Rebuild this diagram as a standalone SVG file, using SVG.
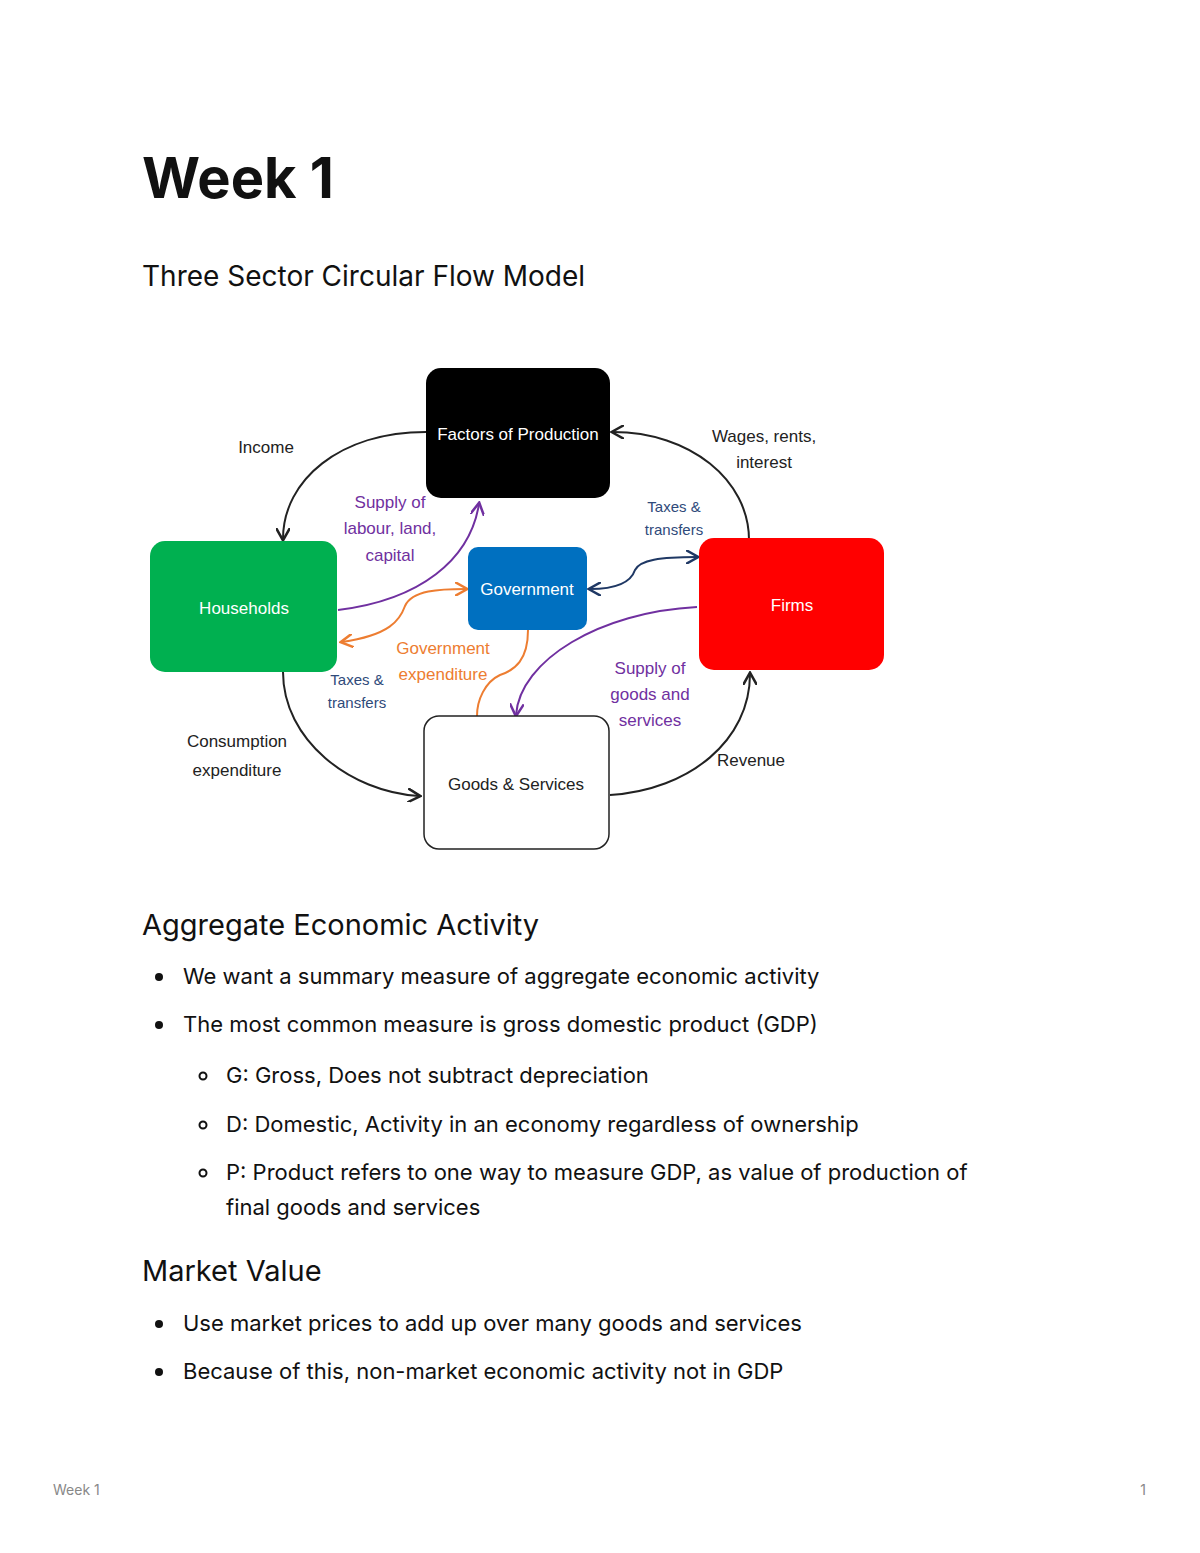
<svg xmlns="http://www.w3.org/2000/svg" width="1200" height="1553" viewBox="0 0 1200 1553">
<style>
.t{font-family:Inter,"Liberation Sans",sans-serif;fill:#111}
.d{font-family:"Liberation Sans Narrow","Liberation Sans",sans-serif;font-size:17px;text-anchor:middle}
.c{fill:none;stroke-width:2}
</style>
<defs>
<marker id="ak" viewBox="0 0 10 10" refX="8" refY="5" markerWidth="7" markerHeight="7" orient="auto-start-reverse"><path d="M0,0 L9,5 L0,10" fill="none" stroke="#222" stroke-width="1.8"/></marker>
<marker id="ap" viewBox="0 0 10 10" refX="8" refY="5" markerWidth="7" markerHeight="7" orient="auto-start-reverse"><path d="M0,0 L9,5 L0,10" fill="none" stroke="#7030A0" stroke-width="1.8"/></marker>
<marker id="ao" viewBox="0 0 10 10" refX="8" refY="5" markerWidth="7" markerHeight="7" orient="auto-start-reverse"><path d="M0,0 L9,5 L0,10" fill="none" stroke="#ED7D31" stroke-width="1.8"/></marker>
<marker id="ab" viewBox="0 0 10 10" refX="8" refY="5" markerWidth="7" markerHeight="7" orient="auto-start-reverse"><path d="M0,0 L9,5 L0,10" fill="none" stroke="#1F3864" stroke-width="1.8"/></marker>
</defs>
<rect width="1200" height="1553" fill="#fff"/>
<text class="t" x="142" y="198" font-size="56" font-weight="700">Week 1</text>
<text class="t" x="142" y="286" font-size="28">Three Sector Circular Flow Model</text>

<g id="connectors">
<path class="c" stroke="#222" d="M426,432 C340,432 283,480 283,539" marker-end="url(#ak)"/>
<path class="c" stroke="#222" d="M749,540 C749,480 690,432 613,432" marker-end="url(#ak)"/>
<path class="c" stroke="#222" d="M283,672 C283,740 350,792 419,796" marker-end="url(#ak)"/>
<path class="c" stroke="#222" d="M610,795 C690,790 750,740 750,674" marker-end="url(#ak)"/>
<path class="c" stroke="#7030A0" d="M338,610 C420,600 470,560 479,504" marker-end="url(#ap)"/>
<path class="c" stroke="#7030A0" d="M697,607 C600,612 520,660 516,715" marker-end="url(#ap)"/>
<path class="c" stroke="#ED7D31" d="M342,642 C390,635 400,620 405,606 C412,590 440,589 466,589" marker-start="url(#ao)" marker-end="url(#ao)"/>
<path class="c" stroke="#ED7D31" d="M528,630 C528,660 515,670 500,675 C485,682 477,700 477,716"/>
<path class="c" stroke="#1F3864" d="M697,557 C660,557 640,560 635,570 C630,585 610,589 590,589" marker-start="url(#ab)" marker-end="url(#ab)"/>
</g>

<g id="factors"><rect x="426" y="368" width="184" height="130" rx="15" fill="#000"/><text class="d" x="518" y="440" fill="#fff">Factors of Production</text></g>
<g id="households"><rect x="150" y="541" width="187" height="131" rx="15" fill="#00B050"/><text class="d" x="244" y="614" fill="#fff">Households</text></g>
<g id="government"><rect x="468" y="547" width="119" height="83" rx="10" fill="#0070C0"/><text class="d" x="527" y="595" fill="#fff">Government</text></g>
<g id="firms"><rect x="699" y="538" width="185" height="132" rx="15" fill="#FF0000"/><text class="d" x="792" y="611" fill="#fff">Firms</text></g>
<g id="goods"><rect x="424" y="716" width="185" height="133" rx="15" fill="#fff" stroke="#222" stroke-width="1.5"/><text class="d" x="516" y="790" fill="#222">Goods &amp; Services</text></g>

<g class="d" fill="#222">
<text x="266" y="453">Income</text>
<text x="764" y="442">Wages, rents,</text><text x="764" y="468">interest</text>
<text x="237" y="747">Consumption</text><text x="237" y="776">expenditure</text>
<text x="751" y="766">Revenue</text>
</g>
<g class="d" fill="#7030A0">
<text x="390" y="508">Supply of</text><text x="390" y="534">labour, land,</text><text x="390" y="561">capital</text>
<text x="650" y="674">Supply of</text><text x="650" y="700">goods and</text><text x="650" y="726">services</text>
</g>
<g class="d" fill="#ED7D31"><text x="443" y="654">Government</text><text x="443" y="680">expenditure</text></g>
<g class="d" fill="#2F4A7A" font-size="15">
<text x="674" y="512" font-size="15">Taxes &amp;</text><text x="674" y="535" font-size="15">transfers</text>
<text x="357" y="685" font-size="15">Taxes &amp;</text><text x="357" y="708" font-size="15">transfers</text>
</g>

<g class="t">
<text x="142" y="935" font-size="29">Aggregate Economic Activity</text>
<g font-size="22">
<circle cx="159" cy="977" r="4" fill="#111"/><text x="183" y="984">We want a summary measure of aggregate economic activity</text>
<circle cx="159" cy="1025" r="4" fill="#111"/><text x="183" y="1032">The most common measure is gross domestic product (GDP)</text>
<circle cx="203" cy="1076" r="3.5" fill="none" stroke="#111" stroke-width="2"/><text x="226" y="1083">G: Gross, Does not subtract depreciation</text>
<circle cx="203" cy="1125" r="3.5" fill="none" stroke="#111" stroke-width="2"/><text x="226" y="1132">D: Domestic, Activity in an economy regardless of ownership</text>
<circle cx="203" cy="1173" r="3.5" fill="none" stroke="#111" stroke-width="2"/><text x="226" y="1180">P: Product refers to one way to measure GDP, as value of production of</text>
<text x="226" y="1215">final goods and services</text>
</g>
<text x="142" y="1281" font-size="29">Market Value</text>
<g font-size="22">
<circle cx="159" cy="1324" r="4" fill="#111"/><text x="183" y="1331">Use market prices to add up over many goods and services</text>
<circle cx="159" cy="1372" r="4" fill="#111"/><text x="183" y="1379">Because of this, non-market economic activity not in GDP</text>
</g>
<text x="53" y="1495" font-size="14" fill="#888">Week 1</text>
<text x="1146" y="1495" font-size="14" fill="#888" text-anchor="end">1</text>
</g>
</svg>
